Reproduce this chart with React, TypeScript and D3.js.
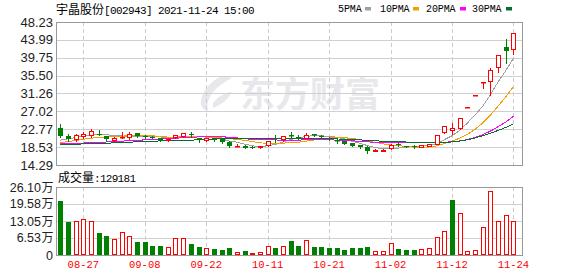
import React from "react";
import * as d3 from "d3";

const dates = ["08-24","08-25","08-26","08-27","08-30","08-31","09-01","09-02","09-03","09-06",
  "09-07","09-08","09-09","09-10","09-13","09-14","09-15","09-16","09-17","09-22",
  "09-23","09-24","09-27","09-28","09-29","09-30","10-08","10-11","10-12","10-13",
  "10-14","10-15","10-18","10-19","10-20","10-21","10-22","10-25","10-26","10-27",
  "10-28","10-29","11-01","11-02","11-03","11-04","11-05","11-08","11-09","11-10",
  "11-11","11-12","11-15","11-16","11-17","11-18","11-19","11-22","11-23","11-24"];

const opens = [23.00,21.24,20.39,21.17,21.34,21.72,21.10,20.15,20.86,20.86,
  21.80,21.10,21.01,20.70,20.30,20.94,21.24,21.72,20.62,20.15,
  20.60,20.39,19.82,18.80,18.87,18.60,18.45,19.10,20.60,20.46,
  21.45,21.00,20.77,21.60,21.24,20.70,20.30,19.90,19.55,19.04,
  18.62,17.61,17.70,18.30,19.20,18.80,18.70,18.60,18.80,19.35,
  22.05,22.60,23.00,27.98,30.83,33.92,34.30,37.50,42.30,41.75];
const highs = [24.02,21.65,21.65,22.12,22.76,22.60,21.24,20.90,22.04,22.12,
  21.90,21.30,21.20,20.75,20.60,21.50,21.95,22.10,20.75,20.80,
  20.75,20.50,20.00,19.30,18.95,18.70,18.80,20.00,21.48,21.10,
  22.20,21.41,21.88,21.70,21.50,20.90,20.35,19.95,19.60,19.10,
  18.80,18.00,18.10,19.30,19.40,18.90,19.00,19.10,19.30,21.34,
  23.50,24.20,25.40,27.98,30.83,33.92,37.30,40.40,44.20,45.60];
const lows = [20.90,20.06,20.06,20.70,21.01,21.41,20.06,19.90,20.70,20.55,
  20.90,20.80,20.70,19.90,20.10,20.60,21.00,21.00,19.80,19.90,
  20.10,19.60,18.60,18.70,18.30,18.30,18.40,18.90,19.68,19.90,
  21.00,20.39,20.70,21.17,20.90,20.20,19.60,19.20,18.80,18.30,
  17.20,17.50,17.55,18.20,18.70,18.50,18.30,18.55,18.75,19.27,
  22.00,21.60,22.80,27.98,30.83,32.60,30.83,36.30,38.40,40.70];
const closes = [21.17,20.53,21.41,21.65,22.29,21.48,20.46,20.70,21.01,21.65,
  21.17,20.95,20.80,20.30,20.55,21.34,21.80,21.34,20.22,20.70,
  20.30,19.82,18.80,18.90,18.40,18.38,18.70,19.90,20.50,21.10,
  21.38,20.90,21.41,21.55,20.94,20.39,20.15,19.30,18.87,18.50,
  17.68,17.85,17.92,19.15,18.95,18.65,18.50,19.04,19.20,21.30,
  23.47,23.10,25.37,27.98,30.83,33.92,36.80,40.40,41.40,45.60];

// volume in 万 shares
const volumes = [20.7,12.6,13.2,13.8,12.9,8.4,7.3,6.1,8.7,7.3,
  5.0,5.0,3.4,3.4,3.1,6.4,6.4,4.2,3.1,2.5,
  2.3,1.9,2.6,1.0,1.5,0.8,1.0,3.4,2.6,3.4,
  5.3,3.4,5.7,3.1,3.1,2.6,2.6,1.9,2.6,2.6,
  3.1,1.4,1.4,4.5,2.3,1.9,1.9,2.2,2.6,6.9,
  9.2,21.0,16.3,1.4,1.8,10.7,24.5,12.9,15.5,12.9181];
const volDir = [-1,-1,1,1,1,-1,-1,1,1,1,
  -1,-1,-1,-1,1,1,1,-1,-1,1,
  -1,-1,-1,1,-1,1,1,1,-1,1,
  -1,-1,1,-1,-1,-1,-1,-1,-1,-1,
  -1,1,1,1,-1,-1,-1,1,1,1,
  1,-1,1,1,1,1,1,1,1,1];

const ma5 = [20.20,20.50,20.80,21.10,21.41,21.47,21.46,21.32,21.19,21.06,
  21.00,21.10,21.12,20.97,20.75,20.79,20.96,21.07,21.05,21.08,
  20.87,20.48,19.97,19.70,19.24,18.86,18.64,18.86,19.18,19.72,
  20.32,20.76,21.06,21.27,21.24,21.04,20.89,20.47,19.93,19.44,
  18.90,18.44,18.16,18.22,18.31,18.50,18.63,18.86,18.87,19.34,
  20.30,21.22,22.49,24.24,26.15,28.24,30.98,33.99,36.67,39.62];
const ma10 = [19.55,19.85,20.10,20.40,20.65,20.85,20.95,21.05,21.15,21.24,
  21.24,21.28,21.22,21.08,20.91,20.89,21.03,21.09,21.01,20.92,
  20.83,20.72,20.52,20.38,20.16,19.87,19.56,19.41,19.44,19.48,
  19.59,19.70,19.96,20.22,20.48,20.68,20.82,20.76,20.60,20.34,
  19.97,19.66,19.32,19.08,18.88,18.70,18.54,18.51,18.54,18.82,
  19.40,19.93,20.67,21.56,22.74,24.27,26.10,28.24,30.46,32.89];
const ma20 = [19.30,19.35,19.40,19.50,19.60,19.70,19.75,19.85,19.95,20.05,
  20.15,20.25,20.35,20.45,20.55,20.65,20.75,20.85,20.95,21.08,
  21.03,21.00,20.87,20.73,20.53,20.38,20.29,20.25,20.23,20.20,
  20.21,20.21,20.24,20.30,20.32,20.27,20.19,20.09,20.02,19.91,
  19.78,19.68,19.64,19.65,19.68,19.69,19.68,19.64,19.57,19.58,
  19.69,19.80,19.99,20.32,20.81,21.49,22.32,23.37,24.50,25.86];
const ma30 = [19.05,19.10,19.20,19.30,19.35,19.40,19.45,19.55,19.60,19.70,
  19.80,19.85,19.95,20.00,20.05,20.10,20.15,20.20,20.25,20.35,
  20.45,20.50,20.50,20.50,20.50,20.50,20.50,20.50,20.52,20.54,
  20.55,20.56,20.56,20.56,20.52,20.48,20.47,20.42,20.35,20.25,
  20.13,20.03,19.93,19.89,19.84,19.75,19.64,19.56,19.53,19.55,
  19.65,19.76,19.98,20.28,20.70,21.22,21.82,22.50,23.20,24.02];

const priceTicks = ["14.29","18.53","22.77","27.02","31.26","35.50","39.75","43.99","48.23"];
const volTickValues = [0, 6.53, 13.05, 19.58, 26.10];
const volTickLabels = ["0", "6.53万", "13.05万", "19.58万", "26.10万"];
const xTickDates = ["08-27","09-08","09-22","10-11","10-21","11-02","11-12","11-24"];
const maNames = ["5PMA", "10PMA", "20PMA", "30PMA"];
const titleName = "宇晶股份";
const titleRest = "[002943] 2021-11-24 15:00";
const volTitle = "成交量";
const volLast = ":129181";

const W = 578, H = 276;
const L = 56, R = 522;
const PT = 22, PB = 165, VT = 187, VB = 255;
const RED = "#ff0000", GREEN = "#008000";
const MA_COLORS = ["#a0a0a0", "#f0a000", "#ff00ff", "#006f30"];
const MONO = "'Liberation Mono', 'DejaVu Sans Mono', monospace";
const SANS = "'Liberation Sans', Arial, sans-serif";
const CJK = "'Noto Sans CJK SC', sans-serif";

export default function App() {
  const x = d3.scalePoint<string>().domain(dates).range([60.3, 513.4]);
  const y = d3.scaleLinear().domain([+priceTicks[0], +priceTicks[priceTicks.length - 1]]).range([PB, PT]);
  const yv = d3.scaleLinear().domain([0, 26.10]).range([VB, VT]);
  const maSeries = [ma5, ma10, ma20, ma30];
  const line = (arr: number[]) =>
    d3.line<number>().x((_, i) => x(dates[i]) as number).y((d) => y(d))(arr) || "";
  const px = (v: number) => Math.round(v);

  return (
    <svg width={W} height={H} style={{ position: "fixed", left: 0, top: 0, background: "#fff" }}>
      <rect x={0} y={0} width={W} height={H} fill="#fff" />
      {/* title */}
      <text x={56} y={14} fontSize={12} fill="#000">
        <tspan fontFamily={CJK}>{titleName}</tspan>
        <tspan fontFamily={MONO} fontSize={11} letterSpacing={-0.6}>{titleRest}</tspan>
      </text>
      {/* legend */}
      {maNames.map((n, i) => {
        const starts = [338, 380, 426, 472];
        const sq = [365, 413, 460, 506];
        return (
          <g key={n}>
            <text x={starts[i]} y={12} fontFamily={MONO} fontSize={10} letterSpacing={-0.1} fill="#000">{n}</text>
            <rect x={sq[i]} y={7} width={6} height={3.5} fill={MA_COLORS[i]} />
          </g>
        );
      })}
      {/* watermark */}
      <g>
        <path d="M222,76 C212,80 203,90 201,100 C200,106 203,110 208,111 C206,104 209,96 215,90 C221,84 228,80 232,78 C229,77 226,76 222,76 Z" fill="#e8e8ec" />
        <path d="M213,103 C218,96 226,92 232,92 C229,98 222,105 213,108 Z" fill="#e8e8ec" />
        <text x={240} y={107} fontFamily={CJK} fontWeight={700} fontSize={35} fill="#e8e8ec">东方财富</text>
      </g>
      {/* price grid */}
      {priceTicks.map((t) => (
        <line key={t} x1={L} x2={R} y1={px(y(+t)) + 0.5} y2={px(y(+t)) + 0.5} stroke="#d0d0d0" />
      ))}
      {xTickDates.map((d) => (
        <line key={d} x1={px(x(d) as number) + 0.5} x2={px(x(d) as number) + 0.5} y1={PT} y2={PB}
          stroke="#cccccc" strokeDasharray="4,3" />
      ))}
      <rect x={L + 0.5} y={PT + 0.5} width={R - L} height={PB - PT} fill="none" stroke="#999" />
      {priceTicks.map((t) => (
        <text key={t} x={53} y={y(+t)} textAnchor="end" dominantBaseline="central"
          fontFamily={SANS} fontSize={13} fill="#222">{t}</text>
      ))}
      {/* MA lines */}
      {maSeries.map((s, i) => (
        <path key={i} d={line(s)} fill="none" stroke={MA_COLORS[i]} strokeWidth={1} shapeRendering="crispEdges" />
      ))}
      {/* candles */}
      {dates.map((d, i) => {
        const cx = px(x(d) as number);
        const o = opens[i], c = closes[i];
        const up = c >= o;
        const col = up ? RED : GREEN;
        const top = px(y(Math.max(o, c)));
        const bot = px(y(Math.min(o, c)));
        const hi = px(y(highs[i]));
        const lo = px(y(lows[i]));
        const h = bot - top;
        return (
          <g key={d}>
            <line x1={cx + 0.5} x2={cx + 0.5} y1={hi} y2={lo + 1} stroke={col} />
            {h < 1 ? (
              <rect x={cx - 2} y={top} width={5} height={1.5} fill={col} />
            ) : up ? (
              <rect x={cx - 2 + 0.5} y={top + 0.5} width={4} height={h} fill="#fff" stroke={col} />
            ) : (
              <rect x={cx - 2} y={top} width={5} height={Math.max(h, 1)} fill={col} />
            )}
          </g>
        );
      })}
      {/* volume header */}
      <text x={58} y={182} fontSize={12} fill="#000">
        <tspan fontFamily={CJK}>{volTitle}</tspan>
        <tspan fontFamily={MONO} fontSize={11} letterSpacing={-0.7}>{volLast}</tspan>
      </text>
      {/* volume grid */}
      {volTickValues.map((v) => (
        <line key={v} x1={L} x2={R} y1={px(yv(v)) + 0.5} y2={px(yv(v)) + 0.5} stroke="#d0d0d0" />
      ))}
      {xTickDates.map((d) => (
        <line key={d} x1={px(x(d) as number) + 0.5} x2={px(x(d) as number) + 0.5} y1={VT} y2={VB}
          stroke="#cccccc" strokeDasharray="4,3" />
      ))}
      {volTickValues.map((v, i) => {
        const lbl = volTickLabels[i];
        const hasW = lbl.includes("万");
        return (
          <g key={v}>
            <text x={hasW ? 41 : 53} y={yv(v) + 4.5} textAnchor="end"
              fontFamily={SANS} fontSize={12.5} fill="#222">{lbl.replace("万", "")}</text>
            {hasW ? (
              <text x={41.5} y={yv(v) + 4.5} fontFamily={CJK} fontSize={12} fill="#222">万</text>
            ) : null}
          </g>
        );
      })}
      {dates.map((d, i) => {
        const cx = px(x(d) as number);
        const top = px(yv(volumes[i]));
        const up = volDir[i] > 0;
        return up ? (
          <rect key={d} x={cx - 2 + 0.5} y={top + 0.5} width={4} height={Math.max(VB - top - 1, 1)}
            fill="#fff" stroke={RED} />
        ) : (
          <rect key={d} x={cx - 2} y={top} width={5} height={VB - top} fill={GREEN} />
        );
      })}
      <rect x={L + 0.5} y={VT + 0.5} width={R - L} height={VB - VT} fill="none" stroke="#999" />
      {/* x labels */}
      {xTickDates.map((d) => (
        <text key={d} x={x(d) as number} y={268} textAnchor="middle" fontFamily={MONO} fontSize={10.5}
          fill={RED}>{d}</text>
      ))}
    </svg>
  );
}
